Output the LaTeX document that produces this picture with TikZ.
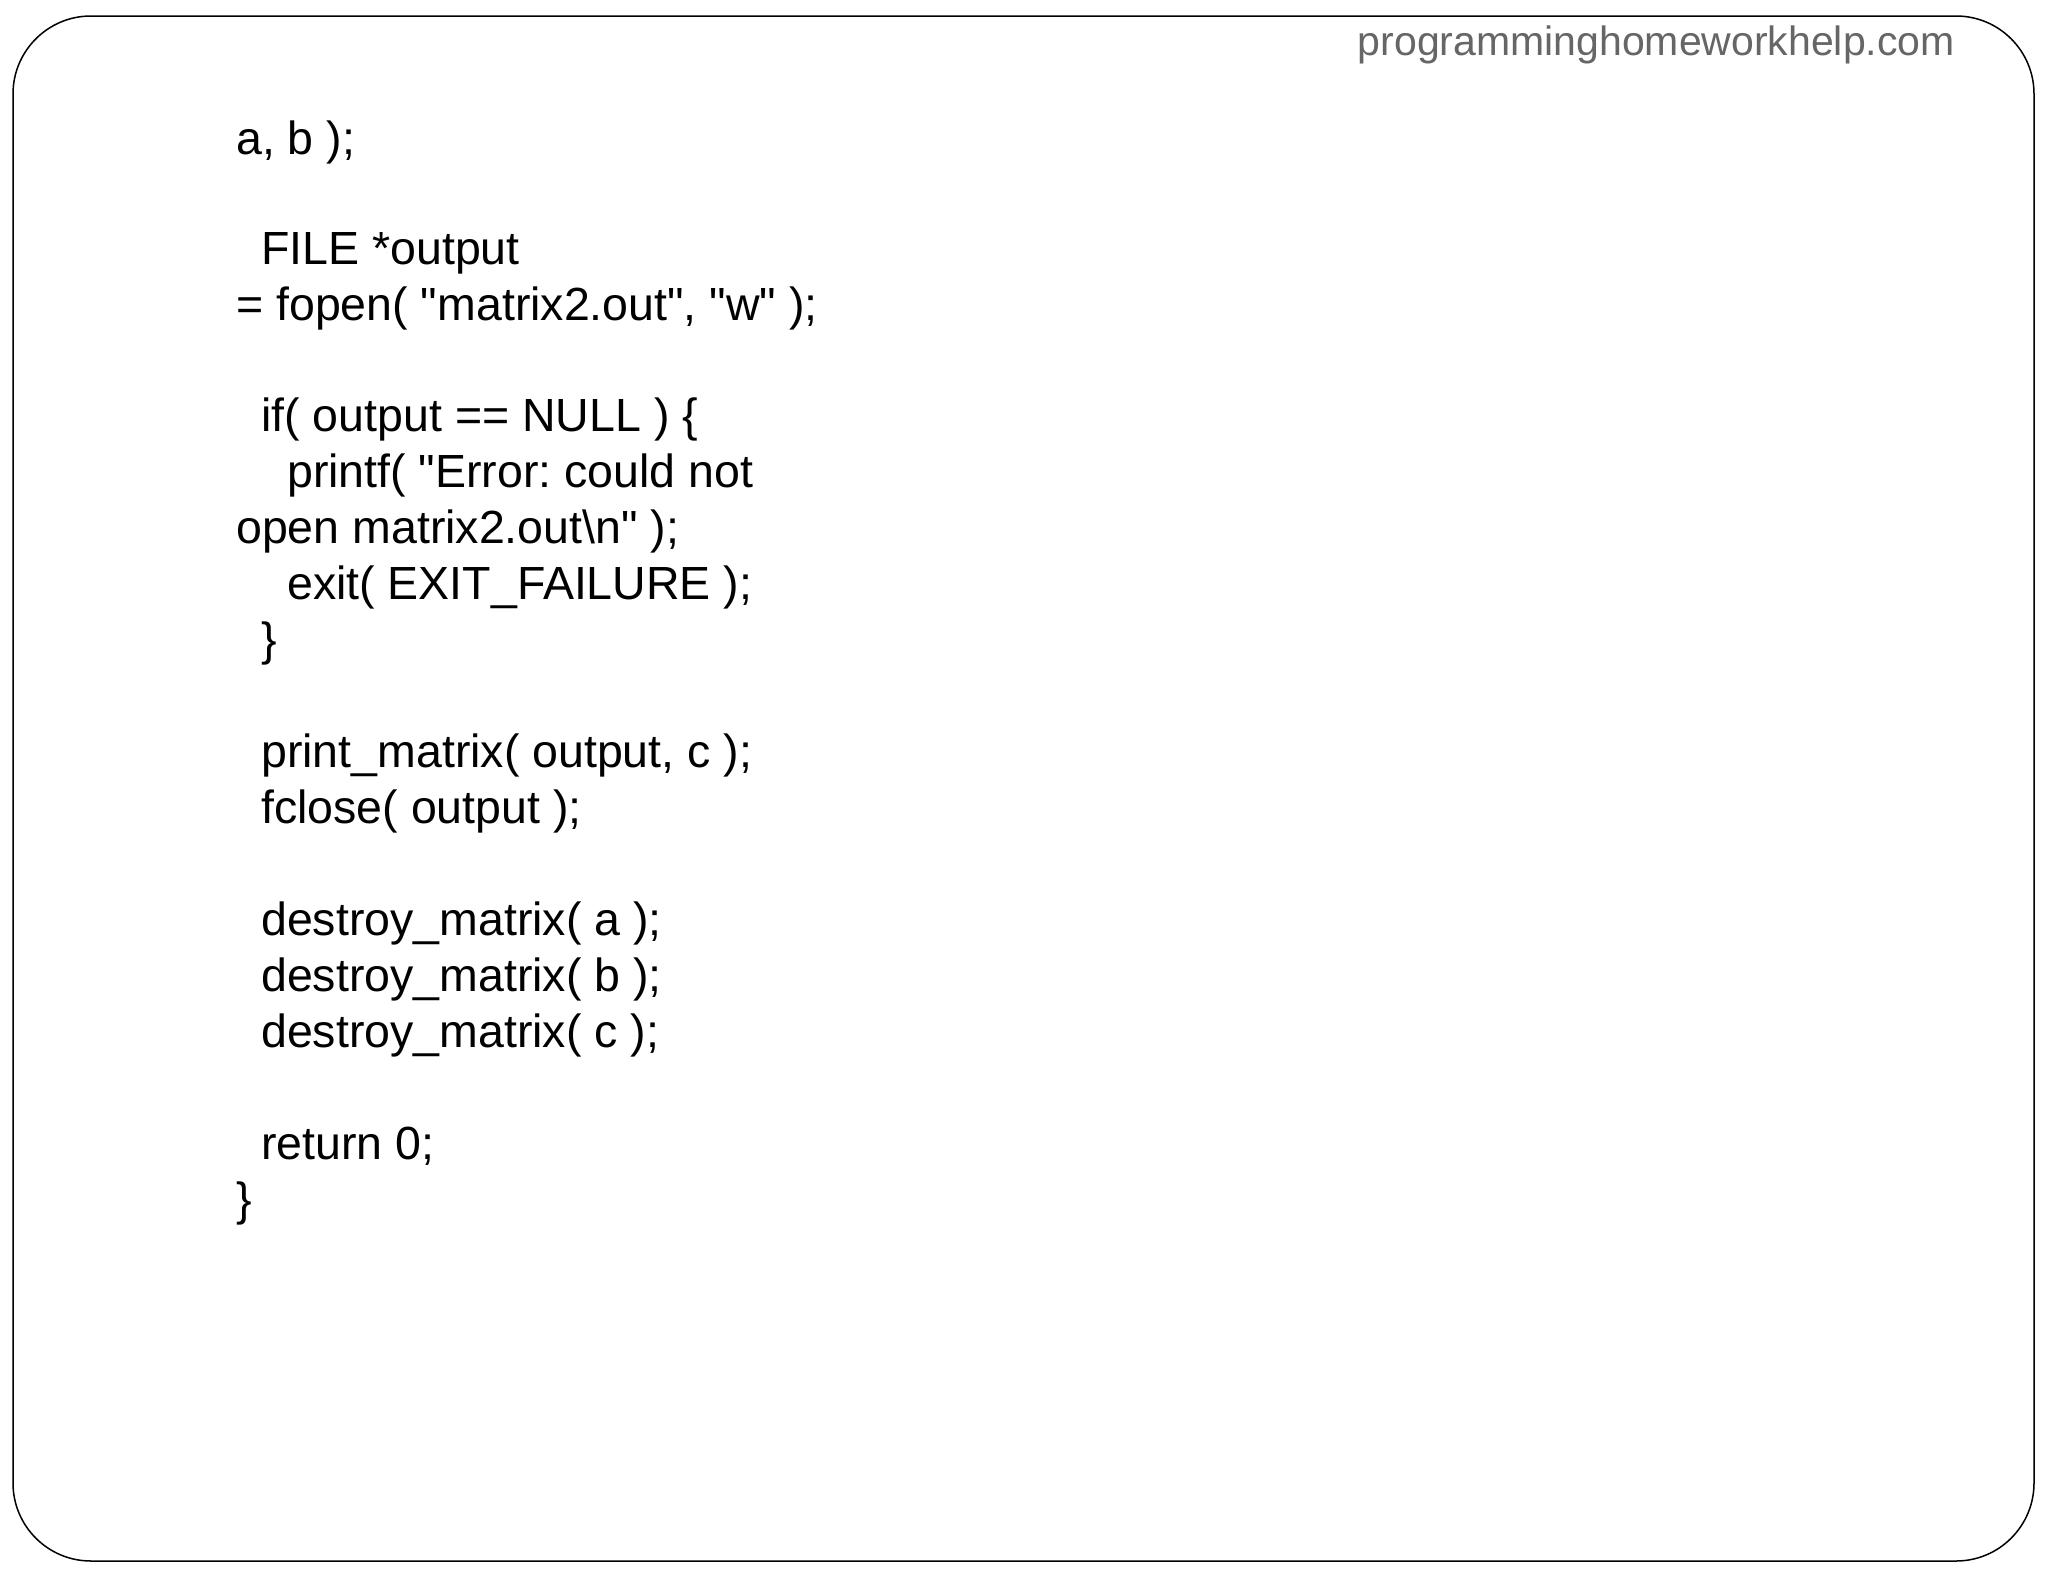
\documentclass[tikz,border=0pt]{standalone}
\usepackage{fontspec}
\setmainfont{Liberation Sans}[Ligatures=TeXOff]
\newcommand\qq{\symbol{34}}
\frenchspacing
\begin{document}
\begin{tikzpicture}[x=1pt,y=-1pt,
  code/.style={anchor=base west,inner sep=0pt,font=\fontsize{46.5}{56}\selectfont}]
\useasboundingbox (0,0) rectangle (2048,1582);
\fill[white] (0,0) rectangle (2048,1582);
\draw[line width=1.5pt,rounded corners=78pt] (13,16) rectangle (2034,1561);
\node[anchor=base east,inner sep=0pt,text=black!60,font=\fontsize{41}{48}\selectfont] (wm) at (1955,55) {programminghomeworkhelp.com};
\node[code] (l1) at (236,154) {a, b );};
\node[code] (l2) at (261,264) {FILE *output};
\node[code] (l3) at (236,320) {= fopen( \qq matrix2.out\qq, \qq w\qq\ );};
\node[code] (l4) at (261,431) {if( output == NULL ) \{};
\node[code] (l5) at (287,487) {printf( \qq Error: could not};
\node[code] (l6) at (236,543) {open matrix2.out\textbackslash n\qq\ );};
\node[code] (l7) at (287,599) {exit( EXIT\_FAILURE );};
\node[code] (l8) at (261,655) {\}};
\node[code] (l9) at (261,767) {print\_matrix( output, c );};
\node[code] (l10) at (261,823) {fclose( output );};
\node[code] (l11) at (261,935) {destroy\_matrix( a );};
\node[code] (l12) at (261,991) {destroy\_matrix( b );};
\node[code] (l13) at (261,1047) {destroy\_matrix( c );};
\node[code] (l14) at (261,1159) {return 0;};
\node[code] (l15) at (236,1215) {\}};
\end{tikzpicture}
\end{document}
